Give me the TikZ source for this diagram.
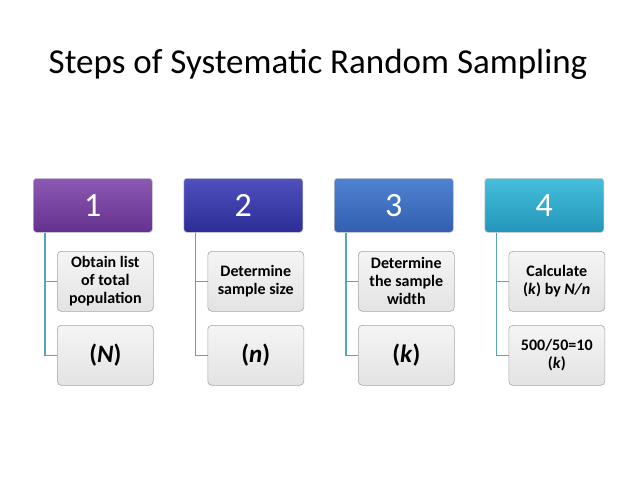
\documentclass[tikz,border=0pt]{standalone}
\usepackage{fontspec}
\setmainfont{Carlito}
\definecolor{p1}{RGB}{140,90,180}\definecolor{p2}{RGB}{100,50,140}
\definecolor{b1}{RGB}{80,80,190}\definecolor{b2}{RGB}{45,45,150}
\definecolor{c1}{RGB}{80,130,210}\definecolor{c2}{RGB}{50,95,175}
\definecolor{t1}{RGB}{70,190,220}\definecolor{t2}{RGB}{35,150,185}
\definecolor{cn}{RGB}{85,165,180}
\begin{document}
\begin{tikzpicture}[x=1pt,y=-1pt,
  head/.style={draw=white!80!black,line width=0.6pt,rounded corners=3pt,minimum width=119pt,minimum height=54pt,text=white,font=\fontsize{34}{34}\selectfont,anchor=north west,inner sep=0pt},
  child/.style={draw=gray!70,line width=0.6pt,rounded corners=4pt,top color=gray!8,bottom color=gray!22,minimum width=96pt,minimum height=60pt,anchor=north west,align=center,font=\bfseries\fontsize{16}{18}\selectfont,inner sep=1pt},
  big/.style={font=\bfseries\fontsize{25}{27}\selectfont},
  conn/.style={draw=cn,line width=1.6pt}]
\useasboundingbox (0,0) rectangle (638,479);
\node[font=\fontsize{35}{35}\selectfont] (title) at (318,64) {Steps of Systematic Random Sampling};
\foreach \i/\num/\ca/\cb/\ta/\tb/\big in {
  0/1/p1/p2/{Obtain list\\of total\\population}/{(\textit{N})}/1,
  1/2/b1/b2/{Determine\\sample size}/{(\textit{n})}/1,
  2/3/c1/c2/{Determine\\the sample\\width}/{(\textit{k})}/1,
  3/4/t1/t2/{Calculate\\(\textit{k}) by \textit{N/n}}/{500/50=10\\(\textit{k})}/0}{
  \node[head,top color=\ca,bottom color=\cb] (h\i) at (33+150.5*\i,178) {\num};
  \node[child] (a\i) at (57+150.5*\i,251) {\ta};
  \ifnum\big=1
    \node[child,big] (b\i) at (57+150.5*\i,325) {\tb};
  \else
    \node[child] (b\i) at (57+150.5*\i,325) {\tb};
  \fi
  \coordinate (v\i) at ([xshift=12pt]h\i.south west);
  \draw[conn] (v\i) |- (a\i.west);
  \draw[conn] (v\i) |- (b\i.west);
}
\end{tikzpicture}
\end{document}
